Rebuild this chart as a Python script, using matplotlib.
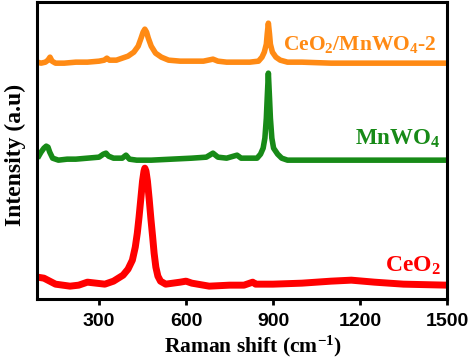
import matplotlib
matplotlib.use("Agg")
import matplotlib.pyplot as plt

plt.rcParams['mathtext.fontset'] = 'custom'
plt.rcParams['mathtext.rm'] = 'Liberation Serif:bold'
plt.rcParams['mathtext.bf'] = 'Liberation Serif:bold'
plt.rcParams['mathtext.it'] = 'Liberation Serif:bold'

# CeO2 spectrum
ceo2_x = [88, 110, 130, 150, 175, 200, 230, 260, 290, 320, 350, 383, 400, 415, 425, 432, 438, 444, 450,
          455, 458, 462, 467, 473, 479, 485, 490, 496, 503, 512, 530, 580, 600, 620, 680, 750, 800, 830,
          840, 900, 1000, 1100, 1170, 1250, 1350, 1500]
ceo2_y = [22, 21, 18, 15, 14, 13, 14, 17, 16, 15, 18, 24, 30, 39, 52, 66, 82, 100, 118,
          128, 131, 128, 118, 100, 80, 62, 46, 32, 23, 18, 15, 17, 18, 16, 13, 14, 14, 17,
          15, 15, 16, 18, 19, 17, 15, 14]

# MnWO4 spectrum
mnwo4_x = [88, 100, 110, 118, 124, 130, 140, 160, 190, 220, 260, 300, 315, 324, 333, 350, 380, 393, 405,
           430, 480, 550, 620, 670, 693, 710, 740, 776, 790, 820, 845, 857, 866, 872, 877, 880, 884, 888,
           891, 896, 902, 916, 930, 950, 1000, 1100, 1200, 1300, 1400, 1500]
mnwo4_py = [158, 152, 148, 146, 147, 152, 158, 160, 159, 159, 158, 157, 154, 153, 156, 158, 158, 155, 159,
            160, 160, 159, 158, 157, 153, 157, 158, 155, 158, 158, 158, 154, 148, 138, 118, 98, 73, 98,
            118, 138, 148, 154, 158, 160, 160, 160, 160, 160, 160, 160]
mnwo4_y = [299 - v for v in mnwo4_py]

# CeO2/MnWO4-2 spectrum
comp_x = [88, 100, 115, 124, 131, 138, 150, 180, 220, 260, 300, 318, 327, 336, 360, 380, 400, 420, 435,
          445, 452, 458, 464, 470, 480, 495, 515, 540, 580, 620, 660, 693, 710, 740, 780, 820, 850, 862,
          870, 877, 880, 884, 888, 891, 898, 910, 925, 950, 1000, 1100, 1200, 1300, 1400, 1500]
comp_py = [62, 63, 62, 60, 57, 61, 63, 63, 62, 62, 61, 60, 58, 60, 60, 58, 56, 52, 46,
           38, 32, 29, 32, 38, 46, 53, 57, 60, 61, 61, 61, 59, 61, 62, 62, 62, 61, 57,
           52, 44, 34, 23, 34, 44, 52, 57, 60, 62, 62, 63, 63, 63, 63, 63]
comp_y = [299 - v for v in comp_py]

labels = ['CeO$_\\mathbf{2}$/MnWO$_\\mathbf{4}$-2', 'MnWO$_\\mathbf{4}$', 'CeO$_\\mathbf{2}$']
colors = ['#FF8A14', '#178A17', '#FF0000']
xticks = [300, 600, 900, 1200, 1500]

fig = plt.figure(figsize=(4.74, 3.6), dpi=100)
ax = fig.add_axes([0.078, 0.169, 0.865, 0.825])

for xs, ys, c, lw in [(comp_x, comp_y, colors[0], 4), (mnwo4_x, mnwo4_y, colors[1], 4),
                      (ceo2_x, ceo2_y, colors[2], 5)]:
    ax.plot(xs, ys, color=c, lw=lw, solid_joinstyle='round', solid_capstyle='butt')

ax.set_xlim(86, 1500)
ax.set_ylim(0, 297)

txt = dict(family='Liberation Serif', weight='bold', ha='right', va='baseline')
ax.text(1465, 249, labels[0], color=colors[0], fontsize=15.5, **txt)
ax.text(1476, 154, labels[1], color=colors[1], fontsize=16.5, **txt)
ax.text(1479, 27, labels[2], color=colors[2], fontsize=17, **txt)

ax.set_xticks(xticks)
ax.set_xticklabels([str(t) for t in xticks], family='Liberation Sans', weight='bold', fontsize=14)
ax.set_yticks([])
ax.tick_params(axis='x', direction='out', length=4, width=2, pad=6)
for s in ax.spines.values():
    s.set_linewidth(2.2)

ax.set_xlabel('Raman shift (cm$^{\\mathbf{-1}}$)', family='Liberation Serif', weight='bold', fontsize=15.5)
ax.xaxis.set_label_coords(0.527, -0.118)
ax.set_ylabel('Intensity (a.u)', family='Liberation Serif', weight='bold', fontsize=17)
ax.yaxis.set_label_coords(-0.027, 0.485)

fig.savefig('out.png', dpi=100)
